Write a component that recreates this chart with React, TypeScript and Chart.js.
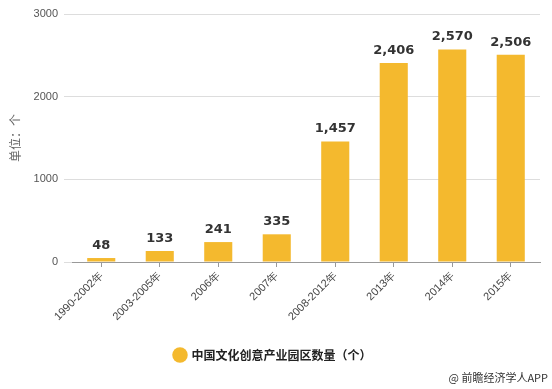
import React, { useEffect, useRef } from "react";
import { Chart, registerables } from "chart.js";

Chart.register(...registerables);

const categories = ["1990-2002年", "2003-2005年", "2006年", "2007年", "2008-2012年", "2013年", "2014年", "2015年"];
const parkCounts = [48, 133, 241, 335, 1457, 2406, 2570, 2506];
const seriesName = "中国文化创意产业园区数量（个）";
const yTitle = "单位：个";
const sourceText = "@ 前瞻经济学人APP";
const yMin = 0;
const yMax = 3000;
const yStep = 1000;

const BAR_COLOR = "#F4B92E";

const labelPlugin = {
  id: "valueLabels",
  afterDatasetsDraw(chart: any) {
    const ctx = chart.ctx;
    const meta = chart.getDatasetMeta(0);
    ctx.save();
    ctx.font = "bold 13px 'DejaVu Sans'";
    ctx.fillStyle = "#333333";
    ctx.textAlign = "center";
    ctx.textBaseline = "bottom";
    meta.data.forEach((bar: any, i: number) => {
      const v = chart.data.datasets[0].data[i] as number;
      ctx.fillText(v.toLocaleString("en-US"), bar.x, bar.y - 6);
    });
    ctx.restore();
  },
  afterDraw(chart: any) {
    const ctx = chart.ctx;
    ctx.save();
    ctx.font = "11px 'Noto Sans CJK SC'";
    ctx.fillStyle = "#333333";
    ctx.textAlign = "right";
    ctx.textBaseline = "middle";
    ctx.fillText(sourceText, 548, 378);
    ctx.restore();
  },
};

export default function App() {
  const canvasRef = useRef<HTMLCanvasElement | null>(null);

  useEffect(() => {
    if (!canvasRef.current) return;
    const chart = new Chart(canvasRef.current, {
      type: "bar",
      data: {
        labels: categories,
        datasets: [
          {
            label: seriesName,
            data: parkCounts,
            backgroundColor: BAR_COLOR,
            borderWidth: 0,
            barPercentage: 0.48,
            categoryPercentage: 1,
          },
        ],
      },
      options: {
        animation: false,
        responsive: false,
        maintainAspectRatio: false,
        layout: { padding: { top: 14, right: 12, bottom: 18, left: 6 } },
        plugins: {
          legend: {
            position: "bottom",
            labels: {
              usePointStyle: true,
              pointStyle: "circle",
              boxWidth: 11,
              boxHeight: 11,
              padding: 10,
              color: "#222222",
              font: { size: 12, weight: "bold", family: "'Noto Sans CJK SC'" },
            },
          },
          tooltip: { enabled: false },
        },
        scales: {
          x: {
            grid: {
              display: true,
              drawOnChartArea: false,
              drawTicks: true,
              tickLength: 5,
              offset: false,
              color: "#999999",
            },
            border: { display: true, color: "#999999" },
            ticks: {
              minRotation: 45,
              maxRotation: 45,
              color: "#444444",
              font: { size: 11, family: "'Liberation Sans'" },
              padding: 2,
            },
            afterFit(scale: any) {
              scale.height = 77;
            },
          },
          y: {
            min: yMin,
            max: yMax,
            ticks: {
              stepSize: yStep,
              color: "#555555",
              font: { size: 11, family: "'Liberation Sans'" },
              padding: 6,
              callback: (v: any) => String(v),
            },
            grid: { color: "#dddddd", tickLength: 8, drawTicks: true },
            border: { display: false },
            title: {
              display: true,
              text: yTitle,
              color: "#666666",
              font: { size: 12, family: "'Noto Sans CJK SC'" },
              padding: 2,
            },
            afterFit(scale: any) {
              scale.width = 66;
            },
          },
        },
      },
      plugins: [labelPlugin],
    } as any);
    return () => chart.destroy();
  }, []);

  return (
    <div style={{ position: "fixed", left: 0, top: 0, width: 552, height: 389, background: "#fff" }}>
      <canvas ref={canvasRef} width={552} height={389} style={{ width: 552, height: 389 }} />
    </div>
  );
}
